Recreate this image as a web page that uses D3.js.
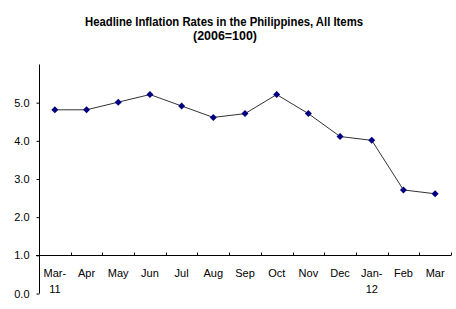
<!DOCTYPE html>
<html>
<head>
<meta charset="utf-8">
<script src="https://cdn.jsdelivr.net/npm/d3@7"></script>
<style>
  body { margin: 0; background: #fff; }
  text { font-family: Arial, "Liberation Sans", sans-serif; fill: #000; }
</style>
</head>
<body>
<div class="chart"></div>
<script>
// chart data
var months = ["Mar-11", "Apr", "May", "Jun", "Jul", "Aug", "Sep", "Oct", "Nov", "Dec", "Jan-12", "Feb", "Mar"];
var rates = [4.8, 4.8, 5.0, 5.2, 4.9, 4.6, 4.7, 5.2, 4.7, 4.1, 4.0, 2.7, 2.6];
var yTicks = [0, 1, 2, 3, 4, 5];
var titleLines = ["Headline Inflation Rates in the Philippines, All Items", "(2006=100)"];

var svgWidth = 456;
var svgHeight = 309;

var svg = d3.select(".chart")
  .append("svg")
  .attr("width", svgWidth)
  .attr("height", svgHeight);

// scales
var xScale = d3.scaleBand()
  .domain(months)
  .range([39, 451]);

var yScale = d3.scaleLinear()
  .domain([0, 6])
  .range([293, 64]);

// title
svg.append("text")
  .attr("x", 224)
  .attr("y", 26)
  .attr("text-anchor", "middle")
  .attr("font-size", "12px")
  .attr("font-weight", "bold")
  .attr("textLength", 278)
  .attr("lengthAdjust", "spacingAndGlyphs")
  .text(titleLines[0]);

svg.append("text")
  .attr("x", 225)
  .attr("y", 40)
  .attr("text-anchor", "middle")
  .attr("font-size", "12px")
  .attr("font-weight", "bold")
  .attr("textLength", 64)
  .attr("lengthAdjust", "spacingAndGlyphs")
  .text(titleLines[1]);

// y axis
var leftAxis = d3.axisLeft(yScale)
  .tickValues(yTicks)
  .tickSize(3)
  .tickSizeOuter(0)
  .tickFormat(d3.format(".1f"));

var yAxisG = svg.append("g")
  .attr("transform", "translate(39.5,0.5)")
  .call(leftAxis);

yAxisG.select(".domain").attr("stroke", "#000");
yAxisG.selectAll(".tick line").attr("stroke", "#000");
yAxisG.selectAll(".tick text")
  .attr("font-size", "11px")
  .attr("font-family", "Arial, 'Liberation Sans', sans-serif")
  .attr("x", -10);
// axis line runs up to the top of the plot (6.0)
yAxisG.select(".domain").attr("d", "M0," + yScale(6) + "V" + yScale(0));

// x axis crosses at 1.0
var xAxisY = yScale(1);
var bottomAxis = d3.axisBottom(xScale)
  .tickSize(0)
  .tickFormat("");

var xAxisG = svg.append("g")
  .attr("transform", "translate(0," + (Math.round(xAxisY) + 0.5) + ")")
  .call(bottomAxis);

xAxisG.select(".domain").attr("stroke", "#000").attr("d", "M36,0H451");

// boundary ticks pointing up
var bounds = months.map(m => xScale(m) + xScale.bandwidth());
xAxisG.selectAll(".bound")
  .data(bounds)
  .enter()
  .append("line")
  .attr("x1", d => Math.round(d) + 0.5)
  .attr("x2", d => Math.round(d) + 0.5)
  .attr("y1", 0)
  .attr("y2", -3)
  .attr("stroke", "#000");

// category labels (two lines where a year is given)
var labelG = svg.append("g");
months.forEach(function(m) {
  var parts = m.split("-");
  var cx = xScale(m) + xScale.bandwidth() / 2;
  var t = labelG.append("text")
    .attr("x", cx)
    .attr("y", 277)
    .attr("text-anchor", "middle")
    .attr("font-size", "11px");
  if (parts.length > 1) {
    t.text(parts[0] + "-");
    labelG.append("text")
      .attr("x", cx)
      .attr("y", 293)
      .attr("text-anchor", "middle")
      .attr("font-size", "11px")
      .text(parts[1]);
  } else {
    t.text(m);
  }
});

// line
var line = d3.line()
  .x((d, i) => xScale(months[i]) + xScale.bandwidth() / 2)
  .y(d => yScale(d));

svg.append("path")
  .datum(rates)
  .attr("d", line)
  .attr("fill", "none")
  .attr("stroke", "#333")
  .attr("stroke-width", 1);

// diamond markers
svg.append("g").selectAll("path")
  .data(rates)
  .enter()
  .append("path")
  .attr("transform", (d, i) => `translate(${xScale(months[i]) + xScale.bandwidth() / 2}, ${yScale(d)})`)
  .attr("d", "M0,-3.5L3.5,0L0,3.5L-3.5,0Z")
  .attr("fill", "#000080");
</script>
</body>
</html>
